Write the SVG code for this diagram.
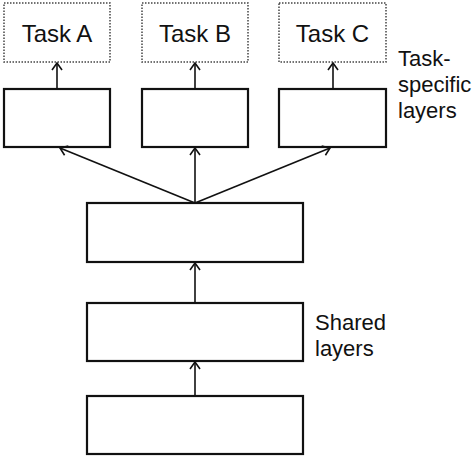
<svg xmlns="http://www.w3.org/2000/svg" width="474" height="459" viewBox="0 0 474 459">
<defs>
<marker id="open" viewBox="0 0 12 12" refX="11" refY="6" markerWidth="12" markerHeight="12" markerUnits="userSpaceOnUse" orient="auto">
<path d="M4,1 L11,6 L4,11" fill="none" stroke="#111" stroke-width="1.6"/>
</marker>
</defs>
<style>
.box{fill:#fff;stroke:#111;stroke-width:2.2}
.task{fill:#fff;stroke:#444;stroke-width:1.5;stroke-dasharray:1.5 1.5}
.t{font-family:"Liberation Sans",Arial,sans-serif;fill:#111}
.conn{stroke:#111;stroke-width:1.6;fill:none}
</style>
<rect width="474" height="459" fill="#fff"/>
<g id="taskA"><rect class="task" x="4" y="3" width="106" height="59"/><text class="t" x="57" y="42" font-size="24" text-anchor="middle">Task A</text></g>
<g id="taskB"><rect class="task" x="142" y="3" width="106" height="59"/><text class="t" x="195" y="42" font-size="24" text-anchor="middle">Task B</text></g>
<g id="taskC"><rect class="task" x="279" y="3" width="107" height="59"/><text class="t" x="332.5" y="42" font-size="24" text-anchor="middle">Task C</text></g>
<g id="specA"><rect class="box" x="4" y="89" width="106" height="58"/></g>
<g id="specB"><rect class="box" x="142" y="89" width="106" height="58"/></g>
<g id="specC"><rect class="box" x="279" y="89" width="107" height="58"/></g>
<g id="shared1"><rect class="box" x="87" y="203" width="216" height="59"/></g>
<g id="shared2"><rect class="box" x="87" y="303" width="216" height="58"/></g>
<g id="shared3"><rect class="box" x="87" y="396" width="216" height="58"/></g>
<g id="label-task"><text class="t" font-size="22" x="398"><tspan x="398" y="66">Task-</tspan><tspan x="398" y="92">specific</tspan><tspan x="398" y="118">layers</tspan></text></g>
<g id="label-shared"><text class="t" font-size="22" x="315"><tspan x="315" y="330">Shared</tspan><tspan x="315" y="356">layers</tspan></text></g>
<g id="connectors">
<line class="conn" x1="57" y1="89" x2="57" y2="63" marker-end="url(#open)"/>
<line class="conn" x1="195" y1="89" x2="195" y2="63" marker-end="url(#open)"/>
<line class="conn" x1="333" y1="89" x2="333" y2="63" marker-end="url(#open)"/>
<line class="conn" x1="195" y1="203" x2="60" y2="148" marker-end="url(#open)"/>
<line class="conn" x1="195" y1="203" x2="195" y2="148" marker-end="url(#open)"/>
<line class="conn" x1="195" y1="203" x2="330" y2="148" marker-end="url(#open)"/>
<line class="conn" x1="195" y1="303" x2="195" y2="263" marker-end="url(#open)"/>
<line class="conn" x1="195" y1="396" x2="195" y2="362" marker-end="url(#open)"/>
</g>
</svg>
